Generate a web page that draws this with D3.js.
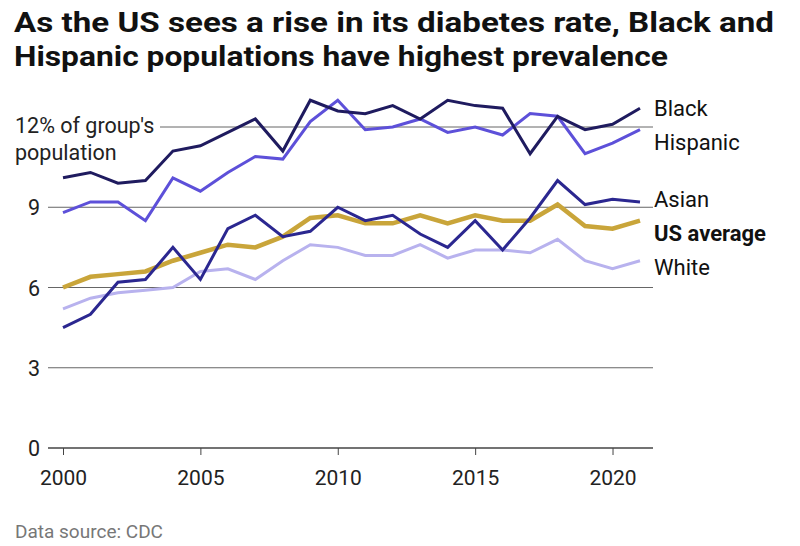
<!DOCTYPE html>
<html>
<head>
<meta charset="utf-8">
<script src="https://cdn.jsdelivr.net/npm/d3@7"></script>
<style>
  body { margin: 0; background: #fff; }
  svg { font-family: Roboto, "Noto Sans", sans-serif; }
</style>
</head>
<body>
<svg id="chart" width="800" height="546"></svg>
<script>
// diabetes prevalence by group, % of population
var years = d3.range(2000, 2022);
var black    = [10.1, 10.3, 9.9, 10.0, 11.1, 11.3, 11.8, 12.3, 11.1, 13.0, 12.6, 12.5, 12.8, 12.3, 13.0, 12.8, 12.7, 11.0, 12.4, 11.9, 12.1, 12.7];
var hispanic = [8.8, 9.2, 9.2, 8.5, 10.1, 9.6, 10.3, 10.9, 10.8, 12.2, 13.0, 11.9, 12.0, 12.3, 11.8, 12.0, 11.7, 12.5, 12.4, 11.0, 11.4, 11.9];
var asian    = [4.5, 5.0, 6.2, 6.3, 7.5, 6.3, 8.2, 8.7, 7.9, 8.1, 9.0, 8.5, 8.7, 8.0, 7.5, 8.5, 7.4, 8.6, 10.0, 9.1, 9.3, 9.2];
var usAvg    = [6.0, 6.4, 6.5, 6.6, 7.0, 7.3, 7.6, 7.5, 7.9, 8.6, 8.7, 8.4, 8.4, 8.7, 8.4, 8.7, 8.5, 8.5, 9.1, 8.3, 8.2, 8.5];
var white    = [5.2, 5.6, 5.8, 5.9, 6.0, 6.6, 6.7, 6.3, 7.0, 7.6, 7.5, 7.2, 7.2, 7.6, 7.1, 7.4, 7.4, 7.3, 7.8, 7.0, 6.7, 7.0];
var yTicks = [0, 3, 6, 9, 12];
var xTicks = [2000, 2005, 2010, 2015, 2020];

var series = [
  { name: "White", values: white, color: "#b8b2ee", width: 3 },
  { name: "US average", values: usAvg, color: "#c9a53a", width: 4.5, bold: true },
  { name: "Asian", values: asian, color: "#2b2790", width: 3 },
  { name: "Hispanic", values: hispanic, color: "#5d50d9", width: 3 },
  { name: "Black", values: black, color: "#1f1b5f", width: 3 }
];
// label baselines (px) at right end
var labelY = { "Black": 116, "Hispanic": 150, "Asian": 207, "US average": 241, "White": 275 };

var svg = d3.select("#chart");

var x = d3.scaleLinear().domain([2000, 2021]).range([63, 640]);
var y = d3.scaleLinear().domain([0, 12]).range([448, 127]);
var left = 48, right = 653;

// title
svg.append("text").attr("x", 14).attr("y", 32)
  .attr("font-size", 28.5).attr("font-weight", 700).attr("fill", "#111")
  .attr("textLength", 760).attr("lengthAdjust", "spacingAndGlyphs")
  .text("As the US sees a rise in its diabetes rate, Black and");
svg.append("text").attr("x", 14).attr("y", 66)
  .attr("font-size", 28.5).attr("font-weight", 700).attr("fill", "#111")
  .attr("textLength", 654).attr("lengthAdjust", "spacingAndGlyphs")
  .text("Hispanic populations have highest prevalence");

// grid
var grid = svg.append("g");
grid.selectAll("line").data(yTicks).enter().append("line")
  .attr("x1", d => d === 12 ? 160 : left)
  .attr("x2", right)
  .attr("y1", d => y(d)).attr("y2", d => y(d))
  .attr("stroke", d => d === 0 ? "#444" : "#666")
  .attr("stroke-width", d => d === 0 ? 1.5 : 1);

// y labels
var yl = svg.append("g").attr("font-size", 21.5).attr("fill", "#222");
yl.selectAll("text").data(yTicks.filter(d => d !== 12)).enter().append("text")
  .attr("x", 40).attr("y", d => y(d) + 8)
  .attr("text-anchor", "end")
  .text(d => d);
yl.append("text").attr("x", 15).attr("y", y(12) + 6).text("12% of group's");
yl.append("text").attr("x", 15).attr("y", y(12) + 33).text("population");

// x axis
var xAxis = svg.append("g").attr("transform", "translate(0," + y(0) + ")")
  .call(d3.axisBottom(x).tickValues(xTicks).tickFormat(d3.format("d")).tickSize(7).tickPadding(15));
xAxis.select(".domain").remove();
xAxis.selectAll("line").attr("stroke", "#444");
xAxis.selectAll("text").attr("font-size", 21).attr("fill", "#222").attr("font-family", "Roboto, sans-serif");

// lines
var line = d3.line().x((d, i) => x(years[i])).y(d => y(d));
svg.append("g").selectAll("path").data(series).enter().append("path")
  .attr("d", d => line(d.values))
  .attr("fill", "none")
  .attr("stroke", d => d.color)
  .attr("stroke-width", d => d.width)
  .attr("stroke-linejoin", "miter");

// series labels
svg.append("g").selectAll("text").data(series).enter().append("text")
  .attr("x", 654).attr("y", d => labelY[d.name])
  .attr("font-size", 22)
  .attr("font-weight", d => d.bold ? 700 : 400)
  .attr("fill", "#111")
  .text(d => d.name);

// source
svg.append("text").attr("x", 15).attr("y", 538)
  .attr("font-size", 19).attr("fill", "#777")
  .text("Data source: CDC");
</script>
</body>
</html>
